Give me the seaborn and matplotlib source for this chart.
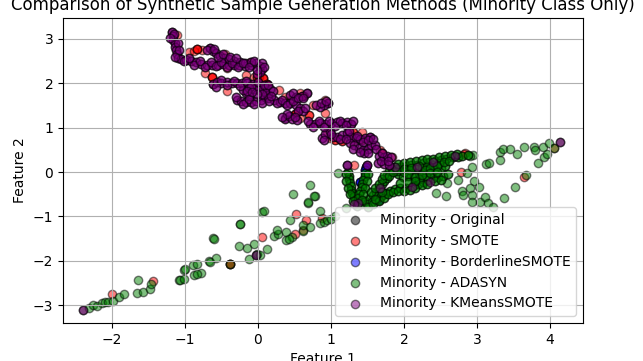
# comparison of synthetic sample generation methods, minority class only
import numpy as np
import seaborn as sns
import matplotlib
matplotlib.use("Agg")
import matplotlib.pyplot as plt

original_pts = [(-1.18, 3.15), (-0.66, 2.79), (0.03, 2.32), (-0.62, 1.98), (0.14, 1.72), (0.67, 1.78),
                (0.96, 1.55), (0.37, 1.22), (1.28, 1.08), (1.53, 0.8), (1.22, 0.16), (1.49, 0.16),
                (2.7, 0.36), (1.37, -0.7), (4.13, 0.67), (-2.4, -3.1), (-0.03, -1.87)]

smote_pts = [(-1.11, 3.09), (-0.95, 2.7), (-0.84, 2.78), (-0.77, 2.75), (-0.88, 2.72), (-0.73, 2.24), (-0.63, 2.15),
             (-0.43, 2.34), (-0.45, 2.66), (-0.43, 1.82), (-0.11, 2.49), (-0.16, 2.19), (0.07, 2.11), (-0.06, 2.15),
             (0.02, 2.13), (0.12, 1.98), (0.29, 1.85), (0.37, 1.68), (0.45, 1.62), (0.5, 1.3), (0.58, 1.77), (0.63, 1.72), (0.75, 1.51),
             (0.92, 1.62), (0.92, 1.34), (0.58, 1.21), (0.94, 0.91), (0.99, 0.76), (1.24, 0.87), (1.42, 0.91),
             (1.3, 0.7), (1.32, 0.16), (1.67, 0.5), (1.83, 0.33), (2.84, 0.42), (2.78, 0.01), (2.82, 0.41),
             (3.64, -0.11), (4.05, 0.54), (0.88, -1.04), (0.66, -1.07), (0.52, -0.95), (0.62, -1.31), (0.5, -1.4),
             (0.06, -1.47), (-0.39, -2.08), (-1.44, -2.45), (-2.0, -2.75)]

# stretches where the red shows fully saturated behind the purple
smote_dense_pts = [(-0.63, 2.15), (-0.84, 2.78), (-0.02, 2.13), (0.07, 2.11), (0.12, 1.98), (0.5, 1.3), (0.62, 1.72),
                   (1.05, 0.72), (1.15, 0.7), (1.3, 0.9), (1.42, 0.72), (1.7, 0.44), (0.7, 1.28), (-0.39, -2.08)]

borderline_pts = [(1.48, 0.12), (1.47, 0.05), (1.4, -0.22), (1.65, -0.62), (1.6, -0.6), (1.31, -0.52), (1.72, -0.5)]

adasyn_sparse_pts = [(-2.32, -3.07), (-2.26, -3.0), (-2.21, -3.02), (-2.14, -2.94), (-2.1, -2.92), (-2.05, -2.92), (-1.98, -2.9),
                     (-1.9, -2.81), (-1.83, -2.75), (-1.65, -2.73), (-1.57, -2.7), (-1.48, -2.64), (-1.47, -2.53), (-1.64, -2.43),
                     (-1.08, -2.43), (-1.07, -2.44), (-1.01, -2.41), (-1.01, -2.21), (-1.0, -2.19), (-0.89, -2.09), (-0.83, -2.06),
                     (-0.67, -2.01), (-0.66, -2.02), (-0.58, -1.93), (-0.87, -2.32), (-0.78, -2.28), (-0.83, -2.3), (-0.39, -2.08),
                     (-0.12, -1.95), (-0.02, -1.85), (0.03, -1.86), (0.13, -1.74), (-0.05, -1.63), (-0.15, -1.7), (-0.26, -1.67),
                     (-0.61, -1.49), (-0.6, -1.5), (-0.25, -1.16), (-0.24, -1.17), (0.05, -0.89), (0.08, -0.88), (0.44, -1.07), (0.22, -1.44),
                     (0.28, -1.4), (0.26, -1.31), (0.39, -1.34), (0.39, -1.53), (0.46, -1.46), (0.42, -1.5), (0.62, -1.32), (0.61, -1.19),
                     (0.71, -1.23), (0.85, -1.14), (0.9, -1.12), (0.94, -1.07), (1.0, -1.05), (1.05, -0.98), (0.69, -0.69),
                     (1.1, -0.03), (0.71, -0.29), (0.48, -0.5), (0.69, -0.67), (0.78, -0.53), (0.76, -0.55), (0.85, -0.88), (1.2, -0.8),
                     (2.95, 0.38), (2.9, 0.36), (2.86, -0.03), (2.93, 0.12), (2.96, -0.21),
                     (3.03, -0.33), (2.74, -0.18), (2.59, -0.24), (2.44, -0.47), (2.58, -0.54), (2.79, -0.43), (2.81, -0.52), (2.9, -0.36),
                     (2.93, -0.52), (2.93, -0.68), (3.04, -0.68), (3.11, -0.56), (3.15, -0.7), (3.22, -0.79), (3.37, -0.58), (3.52, -0.34),
                     (3.67, -0.07), (3.12, 0.18), (3.16, 0.2), (3.32, 0.27), (3.32, 0.45), (3.36, 0.52), (3.45, 0.52), (3.55, 0.41),
                     (3.64, 0.56), (3.78, 0.56), (3.79, 0.5), (3.84, 0.2), (3.92, 0.34), (3.96, 0.41), (3.9, 0.56), (3.99, 0.65), (4.05, 0.54)]

adasyn_dense_pts = [(1.23, 0.0), (1.24, -0.08), (1.25, -0.16), (1.26, -0.24), (1.27, -0.32), (1.28, -0.4), (1.29, -0.47), (1.31, -0.55),
                    (1.33, -0.62), (1.36, -0.7), (1.47, -0.02), (1.46, -0.1), (1.44, -0.18), (1.43, -0.26), (1.42, -0.34), (1.4, -0.42),
                    (1.38, -0.5), (1.37, -0.58), (1.42, -0.72), (1.47, -0.66), (1.52, -0.6), (1.57, -0.52), (1.62, -0.44), (1.66, -0.36),
                    (1.7, -0.28), (1.73, -0.2), (1.77, -0.14), (1.76, -0.06), (1.79, 0.02), (1.84, 0.08), (1.49, -0.72), (1.56, -0.68),
                    (1.62, -0.62), (1.68, -0.55), (1.75, -0.47), (1.81, -0.42), (1.88, -0.38), (1.95, -0.36), (2.03, -0.35), (2.12, -0.32),
                    (2.19, -0.28), (2.26, -0.22), (2.33, -0.17), (2.4, -0.14), (2.47, -0.12), (2.53, -0.09), (1.88, 0.12), (1.95, 0.12),
                    (2.02, 0.14), (2.1, 0.16), (2.18, 0.17), (2.26, 0.2), (2.34, 0.22), (2.42, 0.24), (2.5, 0.27), (2.58, 0.3), (2.67, 0.34),
                    (2.74, 0.35), (1.92, -0.05), (1.99, -0.12), (2.06, -0.1), (2.13, -0.06), (2.2, -0.03), (2.27, 0.0), (2.34, 0.04),
                    (2.42, 0.06), (2.5, 0.09), (2.56, 0.14), (1.9, 0.02), (2.0, 0.0), (2.08, 0.04), (2.16, 0.06), (2.24, 0.1), (2.32, 0.13),
                    (2.4, 0.17), (2.48, 0.2), (2.3, -0.1), (2.2, -0.15),
                    (1.2, -0.05), (1.21, -0.2), (1.23, -0.35), (1.26, -0.5), (1.3, -0.65), (1.35, -0.76), (1.5, -0.05), (1.49, -0.2),
                    (1.47, -0.35), (1.44, -0.5), (1.42, -0.62), (1.5, -0.78), (1.58, -0.72), (1.66, -0.65), (1.72, -0.58), (1.78, -0.5),
                    (1.85, -0.46), (1.92, -0.42), (2.0, -0.42), (2.08, -0.4), (2.15, -0.36), (2.25, -0.3), (2.32, -0.26), (2.42, -0.2),
                    (2.5, -0.18), (2.6, -0.05), (1.55, -0.45), (1.6, -0.36), (1.66, -0.26), (1.7, -0.16), (1.72, -0.06), (1.8, -0.08),
                    (1.85, 0.0), (1.9, 0.08), (1.92, 0.18), (2.0, 0.2), (2.08, 0.22), (2.16, 0.24), (2.24, 0.27), (2.32, 0.29), (2.4, 0.3),
                    (2.48, 0.33), (2.56, 0.36), (2.64, 0.38), (2.72, 0.4), (2.8, 0.36), (2.88, 0.38), (2.0, 0.07), (2.1, 0.1), (2.2, 0.13),
                    (2.28, 0.05), (2.36, 0.1), (2.45, 0.13), (2.55, 0.22), (2.62, 0.25), (2.05, -0.05), (2.15, -0.12), (2.25, -0.07),
                    (2.35, -0.03), (2.45, 0.0), (1.95, -0.25), (2.05, -0.22), (2.15, -0.2), (1.6, -0.6), (1.7, -0.45)]

kmeans_sparse_pts = [(4.13, 0.67), (-2.4, -3.1), (-0.03, -1.87), (1.88, 0.11), (2.18, 0.11), (2.4, 0.23), (2.7, 0.36),
                     (2.36, -0.22), (2.11, -0.34), (1.67, -0.36), (1.37, -0.7), (1.31, -0.72)]

kmeans_dense_pts = [(-1.18, 3.15), (-1.17, 3.06), (-1.16, 2.98), (-1.14, 2.9), (-1.13, 2.82), (-1.12, 2.74), (-1.11, 2.66), (-1.1, 2.58),
                    (-1.05, 2.55), (-0.98, 2.52), (-0.92, 2.5), (-0.85, 2.47), (-0.78, 2.44), (-0.7, 2.41), (-0.63, 2.42), (-0.55, 2.42),
                    (-0.48, 2.43), (-0.4, 2.42), (-0.33, 2.41), (-0.26, 2.42), (-0.18, 2.4), (-0.1, 2.42), (-0.03, 2.45), (0.03, 2.4),
                    (0.05, 2.32), (0.03, 2.25), (-0.01, 2.2), (-0.66, 2.79), (-0.62, 2.73), (-0.58, 2.68), (-0.52, 2.62), (-0.46, 2.58),
                    (-0.4, 2.54), (-0.33, 2.5), (-0.25, 2.47), (-0.18, 2.46), (-0.1, 2.47), (-0.62, 1.98), (-0.56, 2.03), (-0.5, 2.0),
                    (-0.43, 2.02), (-0.36, 2.0), (-0.29, 2.0), (-0.22, 2.0), (-0.15, 2.0), (-0.08, 1.98), (-0.02, 1.95), (0.05, 1.93),
                    (0.1, 1.9), (0.16, 1.86), (-0.29, 1.62), (-0.23, 1.6), (-0.16, 1.58), (-0.09, 1.58), (-0.03, 1.6), (0.04, 1.62), (0.1, 1.68),
                    (0.14, 1.74), (0.1, 1.8), (0.02, 1.85), (-0.05, 1.88), (-0.12, 1.72), (-0.17, 1.77), (-0.2, 1.85), (-0.12, 1.9), (0.14, 1.66),
                    (0.22, 1.62), (0.3, 1.58), (0.37, 1.56), (0.44, 1.55), (0.52, 1.5), (0.58, 1.44), (0.62, 1.38), (0.44, 1.73), (0.52, 1.7),
                    (0.6, 1.72), (0.67, 1.78), (0.37, 1.2), (0.42, 1.27), (0.47, 1.2), (0.53, 1.17), (0.96, 1.55), (0.9, 1.5), (0.85, 1.46),
                    (0.8, 1.5), (0.71, 1.08), (0.78, 1.08), (0.85, 1.1), (0.92, 1.08), (1.0, 1.1), (1.08, 1.12), (1.15, 1.1), (1.22, 1.12),
                    (1.28, 1.08), (0.88, 0.77), (0.92, 0.85), (0.98, 0.92), (1.03, 0.8), (1.08, 0.79), (1.15, 0.83), (1.22, 0.88), (1.28, 0.8),
                    (1.34, 0.76), (1.4, 0.74), (1.46, 0.76), (1.53, 0.8), (1.26, 0.65), (1.32, 0.6), (1.38, 0.55), (1.44, 0.5), (1.5, 0.52),
                    (1.45, 0.42), (1.55, 0.62), (1.6, 0.6), (1.66, 0.36), (1.72, 0.35), (1.77, 0.36), (1.64, 0.2), (1.72, 0.18), (1.8, 0.16),
                    (1.22, 0.16), (1.49, 0.16),
                    (-1.15, 3.1), (-1.2, 3.02), (-1.1, 2.9), (-1.08, 2.75), (-1.13, 2.6), (-1.02, 2.5), (-0.95, 2.56), (-0.88, 2.42),
                    (-0.8, 2.5), (-0.72, 2.36), (-0.65, 2.47), (-0.57, 2.38), (-0.5, 2.48), (-0.42, 2.37), (-0.35, 2.46), (-0.28, 2.37),
                    (-0.2, 2.45), (-0.12, 2.36), (-0.05, 2.5), (0.06, 2.46), (0.08, 2.37), (-0.02, 2.3), (-0.7, 2.75), (-0.6, 2.78),
                    (-0.55, 2.6), (-0.48, 2.66), (-0.38, 2.6), (-0.3, 2.56), (-0.58, 1.92), (-0.5, 2.07), (-0.42, 1.96), (-0.33, 2.06),
                    (-0.25, 1.94), (-0.17, 2.05), (-0.1, 1.93), (0.0, 2.02), (0.08, 1.97), (0.14, 1.95), (0.2, 1.82), (-0.3, 1.68),
                    (-0.2, 1.54), (-0.12, 1.64), (-0.05, 1.54), (0.05, 1.56), (0.15, 1.6), (0.18, 1.72), (0.06, 1.76), (-0.02, 1.76),
                    (-0.15, 1.82), (-0.08, 1.8), (0.26, 1.55), (0.33, 1.63), (0.4, 1.5), (0.48, 1.6), (0.55, 1.38), (0.65, 1.45), (0.48, 1.78),
                    (0.55, 1.66), (0.62, 1.66), (0.4, 1.3), (0.5, 1.25), (0.33, 1.25), (0.86, 1.55), (0.93, 1.6), (0.68, 1.14), (0.75, 1.02),
                    (0.83, 1.15), (0.9, 1.02), (0.97, 1.16), (1.05, 1.04), (1.12, 1.16), (1.2, 1.05), (1.3, 1.14), (0.9, 0.72), (1.0, 0.86),
                    (1.12, 0.75), (1.2, 0.75), (1.25, 0.92), (1.36, 0.82), (1.44, 0.68), (1.5, 0.72), (1.58, 0.74), (1.3, 0.52), (1.4, 0.46),
                    (1.5, 0.44), (1.62, 0.52), (1.7, 0.42), (1.82, 0.34), (1.68, 0.26), (1.78, 0.24)]

series_names = ["Original", "SMOTE", "BorderlineSMOTE", "ADASYN", "KMeansSMOTE"]
series_colors = ["black", "red", "blue", "green", "purple"]
# the samples pile up on the strands, so the dense stretches are counted twice
series_pts = [original_pts,
              smote_pts + smote_dense_pts * 2,
              borderline_pts * 3,
              adasyn_sparse_pts + adasyn_dense_pts * 2,
              kmeans_sparse_pts + kmeans_dense_pts * 2]

x_ticks = [-2, -1, 0, 1, 2, 3, 4]
y_ticks = [-3, -2, -1, 0, 1, 2, 3]

fig, ax = plt.subplots(figsize=(6.43, 3.61), dpi=100)

for name, color, pts in zip(series_names, series_colors, series_pts):
    pts = np.array(pts)
    sns.scatterplot(x=pts[:, 0], y=pts[:, 1], color=color, alpha=0.5, edgecolor="k", linewidth=1,
                    label=f"Minority - {name}", ax=ax)

ax.set_xlim(-2.67, 4.45)
ax.set_ylim(-3.4, 3.47)
ax.set_xticks(x_ticks)
ax.set_yticks(y_ticks)
ax.set_title("Comparison of Synthetic Sample Generation Methods (Minority Class Only)")
ax.set_xlabel("Feature 1")
ax.set_ylabel("Feature 2")
ax.grid(True)
ax.legend(loc="lower right")

fig.subplots_adjust(left=63 / 643, right=583 / 643, top=1 - 18 / 361, bottom=1 - 323 / 361)
fig.savefig("out.png", dpi=100)
